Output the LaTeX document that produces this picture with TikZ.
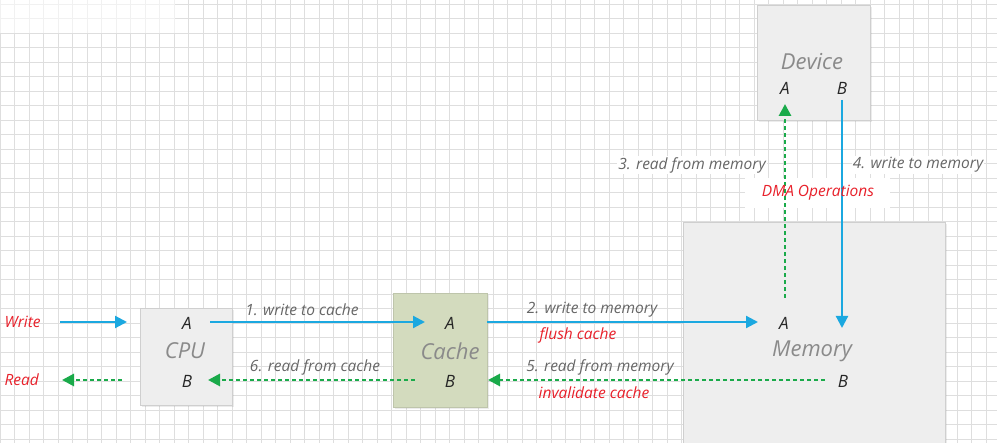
\documentclass[tikz,border=0pt]{standalone}
\usepackage{fontspec}
\setmainfont{Open Sans}
\usetikzlibrary{arrows.meta,shadows}
\definecolor{gridc}{HTML}{DEDEDE}
\definecolor{boxf}{HTML}{EEEEEE}
\definecolor{boxd}{HTML}{CFCFCF}
\definecolor{cachef}{HTML}{D3DBBE}
\definecolor{bluec}{HTML}{1BA8E0}
\definecolor{greenc}{HTML}{1AAA4A}
\definecolor{redc}{HTML}{E8202A}
\definecolor{txtg}{HTML}{666666}
\definecolor{namec}{HTML}{8A8A8A}
\tikzset{
  blk/.style={draw=boxd,line width=1.2pt,fill=boxf,drop shadow={opacity=0.15,shadow xshift=1.5pt,shadow yshift=-1.5pt}},
  pname/.style={font=\itshape\fontsize{22}{22}\selectfont,text=namec},
  port/.style={font=\itshape\fontsize{17}{17}\selectfont,text=black!85},
  lbl/.style={font=\itshape\fontsize{15.5}{15.5}\selectfont,text=txtg},
  rlbl/.style={font=\itshape\fontsize{15.5}{15.5}\selectfont,text=redc},
  wr/.style={bluec,line width=2.2pt,-{Triangle[length=12pt,width=12pt]}},
  rd/.style={greenc,line width=2.8pt,dash pattern=on 4pt off 3pt,-{Triangle[length=12pt,width=12pt]}},
}
\begin{document}
\begin{tikzpicture}[x=1pt,y=-1pt]
\useasboundingbox (0,0) rectangle (997,443);
\fill[white] (0,0) rectangle (997,443);
\foreach \i in {0,...,69} {\draw[gridc,line width=0.9pt] (\i*14.5,0) -- (\i*14.5,443);}
\foreach \j in {0,...,30} {\draw[gridc,line width=0.9pt] (0,\j*14.5+4) -- (997,\j*14.5+4);}
\fill[white,opacity=0.6] (0,0) rectangle (175,33);
% boxes
\node[blk,minimum width=113,minimum height=115,anchor=north west] (dev) at (757,5) {};
\node[blk,minimum width=262,minimum height=230,anchor=north west] (mem) at (683,222) {};
\node[blk,minimum width=92,minimum height=97,anchor=north west] (cpu) at (140,308) {};
\node[blk,fill=cachef,draw=cachef!90!black,minimum width=94,minimum height=114,anchor=north west] (cache) at (393,293) {};
\node[pname] (devl) at (812,62) {Device};
\node[pname] (meml) at (812,351) {Memory};
\node[pname] (cpul) at (185,351) {CPU};
\node[pname] (cachel) at (450,351) {Cache};
\node[port] (devA) at (785,88) {A};
\node[port] (devB) at (842,88) {B};
\node[port] (cpuA) at (187,323) {A};
\node[port] (cpuB) at (187,381) {B};
\node[port] (cacheA) at (450,323) {A};
\node[port] (cacheB) at (450,381) {B};
\node[port] (memA) at (784,323) {A};
\node[port] (memB) at (843,381) {B};
\node[rlbl,anchor=west] (write) at (1,322) {Write};
\node[rlbl,anchor=west] (read) at (1,380) {Read};
\coordinate (wS) at (60,322);
\coordinate (rE) at (62,380);
% arrows
\draw[wr] (wS) -- (127,322);
\draw[wr] (210,322) -- (425,322);
\node[lbl] at (302,310) {1. write to cache};
\draw[wr] (487,322) -- (758,322);
\draw[rd] (825,380) -- (488,380);
\draw[rd] (415,380) -- (208,380);
\draw[rd] (122,380) -- (rE);
\node[lbl] at (592,310) {2. write to memory};
\node[rlbl] at (578,335) {flush cache};
\node[lbl] at (600,367) {5. read from memory};
\node[rlbl] at (594,393) {invalidate cache};
\node[lbl] at (315,367) {6. read from cache};
% DMA
\fill[white] (745,178) rectangle (890,208);
\draw[wr] (842,100) -- (842,328);
\draw[rd] (785,298) -- (785,104);
\node[lbl,fill=white,inner sep=1pt] at (692,165) {3. read from memory};
\node[lbl,fill=white,inner sep=1pt] at (918,165) {4. write to memory};
\node[rlbl] at (818,193) {DMA Operations};
\end{tikzpicture}
\end{document}
